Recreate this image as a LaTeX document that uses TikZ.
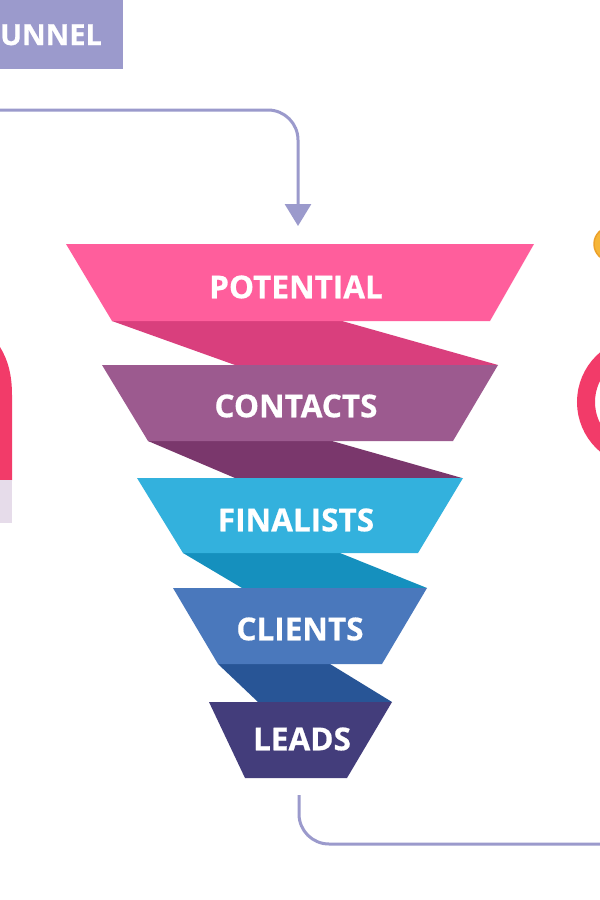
\documentclass[tikz,border=0pt]{standalone}
\usepackage{fontspec}
\setmainfont{Open Sans}
\usetikzlibrary{arrows.meta}
\definecolor{flowc}{HTML}{9B9ACC}
\definecolor{pinkA}{HTML}{FF5E9C}
\definecolor{pinkB}{HTML}{D93F7D}
\definecolor{purA}{HTML}{9C5A8F}
\definecolor{purB}{HTML}{7A376C}
\definecolor{cyaA}{HTML}{33B1DD}
\definecolor{cyaB}{HTML}{1590BE}
\definecolor{bluA}{HTML}{4A78BC}
\definecolor{bluB}{HTML}{285596}
\definecolor{leadA}{HTML}{433D7B}
\definecolor{ringc}{HTML}{F23B69}
\definecolor{lav}{HTML}{E6DCEA}
\definecolor{coinA}{HTML}{F6B638}
\definecolor{coinB}{HTML}{ECA02A}
\tikzset{
  flow/.style={draw=flowc, line width=3pt, rounded corners=30pt},
  lbl/.style={text=white, font=\bfseries\addfontfeature{FakeBold=0.6}\fontsize{31.5}{31.5}\selectfont, inner sep=0pt, anchor=center},
}
\begin{document}
\begin{tikzpicture}[x=1pt,y=-1pt]
\useasboundingbox (0,0) rectangle (600,900);
\fill[white] (0,0) rectangle (600,900);
% title box
\fill[flowc] (0,0) rectangle (123,69);
\node[text=white, font=\bfseries\addfontfeature{FakeBold=0.6}\fontsize{29}{29}\selectfont, inner sep=0pt, anchor=base west] (title) at (0,45) {UNNEL};
% side decorations
\fill[coinA, draw=coinB, line width=1.5pt] (611,244) circle (17);
\draw[ringc, line width=18pt] (642,402) circle (56);
\fill[ringc] (0,347) .. controls (8,360) and (12,375) .. (12,395) -- (12,480) -- (0,480) -- cycle;
\fill[lav] (0,480) rectangle (12,523);
% folds (back sides)
\fill[pinkB] (112,321) -- (342,321) -- (498,365) -- (235,365) -- cycle;
\fill[purB] (148,441) -- (332,441) -- (462,478) -- (235,478) -- cycle;
\fill[cyaB] (183,553) -- (340,553) -- (427,588) -- (242,588) -- cycle;
\fill[bluB] (218,664) -- (330,664) -- (392,702) -- (258,702) -- cycle;
% front trapezoids
\fill[pinkA] (66,244) -- (534,244) -- (490,321) -- (112,321) -- cycle;
\fill[purA] (102,365) -- (498,365) -- (453,441) -- (148,441) -- cycle;
\fill[cyaA] (137,478) -- (463,478) -- (418,553) -- (183,553) -- cycle;
\fill[bluA] (173,588) -- (427,588) -- (382,664) -- (218,664) -- cycle;
\fill[leadA] (209,702) -- (392,702) -- (347,778) -- (245,778) -- cycle;
% labels
\node[lbl] (potential) at (296,287) {POTENTIAL};
\node[lbl] (contacts) at (296,406) {CONTACTS};
\node[lbl] (finalists) at (296,520) {FINALISTS};
\node[lbl] (clients) at (300,629) {CLIENTS};
\node[lbl] (leads) at (302,739) {LEADS};
% connectors
\coordinate (inStart) at (0,110);
\coordinate (inTip) at (298,226);
\coordinate (outStart) at (299,795);
\coordinate (outEnd) at (600,844);
\draw[flow, -{Triangle[width=26pt,length=22pt]}] (inStart) -- (inTip |- inStart) -- (inTip);
\draw[flow] (outStart) -- (outStart |- outEnd) -- (outEnd);
\end{tikzpicture}
\end{document}
